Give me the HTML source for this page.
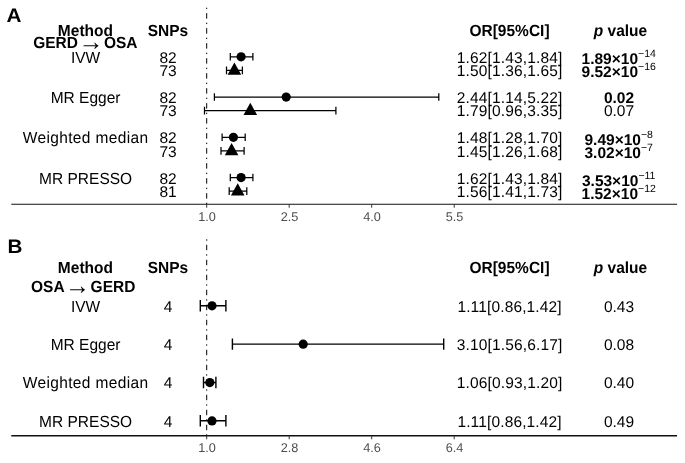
<!DOCTYPE html>
<html><head><meta charset="utf-8"><title>Forest plot</title>
<style>
html,body{margin:0;padding:0;background:#fff;}
svg{display:block;font-family:"Liberation Sans",Arial,Helvetica,sans-serif;text-rendering:geometricPrecision;}
.b{font-weight:bold;}
.t{font-size:15.5px;fill:#000;}
.ax{font-size:12.7px;fill:#4d4d4d;}
</style></head><body>
<svg width="685" height="463" viewBox="0 0 685 463">
<rect width="685" height="463" fill="#fff"/>

<text transform="translate(6.6 21.7) scale(1.09 1.03)" class="b" font-size="19px">A</text>
<text transform="translate(85.4 35.7) scale(1 1.04)" class="t b" text-anchor="middle">Method</text>
<text transform="translate(85.4 48.2) scale(1 1.04)" class="t b" text-anchor="middle">GERD<tspan font-size="1px"> </tspan><tspan font-size="25px" font-weight="normal" dy="1.5" dx="0.2">→</tspan><tspan font-size="1px"> </tspan><tspan dy="-1.5" dx="0.2">OSA</tspan></text>
<text transform="translate(168 35.7) scale(1 1.04)" class="t b" text-anchor="middle">SNPs</text>
<text transform="translate(509.5 35.7) scale(1 1.04)" class="t b" text-anchor="middle">OR[95%CI]</text>
<text transform="translate(620.5 35.7) scale(1 1.04)" class="t b" text-anchor="middle"><tspan font-style="italic">p</tspan> value</text>
<line x1="206.7" y1="7.7" x2="206.7" y2="204.2" stroke="#000" stroke-width="1" stroke-dasharray="1.36 4.09 5.46 4.09"/>
<line x1="11.3" y1="204.2" x2="677" y2="204.2" stroke="#111" stroke-width="1.1"/>
<line x1="206.7" y1="204.2" x2="206.7" y2="207.7" stroke="#333" stroke-width="1"/>
<text transform="translate(207.1 220.9) scale(1 1.0)" class="ax" text-anchor="middle">1.0</text>
<line x1="289.2" y1="204.2" x2="289.2" y2="207.7" stroke="#333" stroke-width="1"/>
<text transform="translate(289.6 220.9) scale(1 1.0)" class="ax" text-anchor="middle">2.5</text>
<line x1="371.7" y1="204.2" x2="371.7" y2="207.7" stroke="#333" stroke-width="1"/>
<text transform="translate(372.1 220.9) scale(1 1.0)" class="ax" text-anchor="middle">4.0</text>
<line x1="454.2" y1="204.2" x2="454.2" y2="207.7" stroke="#333" stroke-width="1"/>
<text transform="translate(454.6 220.9) scale(1 1.0)" class="ax" text-anchor="middle">5.5</text>
<text transform="translate(85.6 62.55) scale(1 1.04)" class="t" text-anchor="middle">IVW</text>
<text transform="translate(168 62.55) scale(1 1.0)" class="t" text-anchor="middle">82</text>
<text transform="translate(509.6 62.55) scale(1 1.0)" class="t" text-anchor="middle" letter-spacing="0.14">1.62[1.43,1.84]</text>
<text transform="translate(618.7 64.1) scale(1 1.0)" class="t" text-anchor="middle"><tspan class="b">1.89×10</tspan><tspan dy="-7.1" font-size="10.5px">−14</tspan></text>
<path d="M230.3 56.75H252.9M230.3 52.95V60.55M252.9 52.95V60.55" stroke="#000" stroke-width="1.25" fill="none"/>
<circle cx="241.1" cy="56.85" r="4.6" fill="#000"/>
<text transform="translate(168 75.9) scale(1 1.0)" class="t" text-anchor="middle">73</text>
<text transform="translate(509.6 75.9) scale(1 1.0)" class="t" text-anchor="middle" letter-spacing="0.14">1.50[1.36,1.65]</text>
<text transform="translate(618.7 77.1) scale(1 1.0)" class="t" text-anchor="middle"><tspan class="b">9.52×10</tspan><tspan dy="-7.1" font-size="10.5px">−16</tspan></text>
<path d="M226.5 70.4H242.4M226.5 66.60V74.20M242.4 66.60V74.20" stroke="#000" stroke-width="1.25" fill="none"/>
<path d="M234.4 62.50L241.2 74.70H227.6Z" fill="#000"/>
<text transform="translate(85.6 102.95) scale(1 1.04)" class="t" text-anchor="middle">MR Egger</text>
<text transform="translate(168 102.95) scale(1 1.0)" class="t" text-anchor="middle">82</text>
<text transform="translate(509.6 102.95) scale(1 1.0)" class="t" text-anchor="middle" letter-spacing="0.14">2.44[1.14,5.22]</text>
<text transform="translate(619 102.95) scale(1 1.0)" class="t b" text-anchor="middle">0.02</text>
<path d="M214.4 97.0H438.8M214.4 93.20V100.80M438.8 93.20V100.80" stroke="#000" stroke-width="1.25" fill="none"/>
<circle cx="286.2" cy="97.10" r="4.6" fill="#000"/>
<text transform="translate(168 116.3) scale(1 1.0)" class="t" text-anchor="middle">73</text>
<text transform="translate(509.6 116.3) scale(1 1.0)" class="t" text-anchor="middle" letter-spacing="0.14">1.79[0.96,3.35]</text>
<text transform="translate(619 116.3) scale(1 1.0)" class="t" text-anchor="middle">0.07</text>
<path d="M204.5 110.63H335.9M204.5 106.83V114.43M335.9 106.83V114.43" stroke="#000" stroke-width="1.25" fill="none"/>
<path d="M250.3 102.73L257.1 114.93H243.5Z" fill="#000"/>
<text transform="translate(85.6 143.35) scale(1 1.04)" class="t" text-anchor="middle" letter-spacing="0.35">Weighted median</text>
<text transform="translate(168 143.35) scale(1 1.0)" class="t" text-anchor="middle">82</text>
<text transform="translate(509.6 143.35) scale(1 1.0)" class="t" text-anchor="middle" letter-spacing="0.14">1.48[1.28,1.70]</text>
<text transform="translate(618.7 145.1) scale(1 1.0)" class="t" text-anchor="middle"><tspan class="b">9.49×10</tspan><tspan dy="-7.1" font-size="10.5px">−8</tspan></text>
<path d="M222.1 137.25H245.2M222.1 133.45V141.05M245.2 133.45V141.05" stroke="#000" stroke-width="1.25" fill="none"/>
<circle cx="233.4" cy="137.35" r="4.6" fill="#000"/>
<text transform="translate(168 156.7) scale(1 1.0)" class="t" text-anchor="middle">73</text>
<text transform="translate(509.6 156.7) scale(1 1.0)" class="t" text-anchor="middle" letter-spacing="0.14">1.45[1.26,1.68]</text>
<text transform="translate(618.7 158.1) scale(1 1.0)" class="t" text-anchor="middle"><tspan class="b">3.02×10</tspan><tspan dy="-7.1" font-size="10.5px">−7</tspan></text>
<path d="M221.0 150.86H244.1M221.0 147.06V154.66M244.1 147.06V154.66" stroke="#000" stroke-width="1.25" fill="none"/>
<path d="M231.6 142.96L238.4 155.16H224.8Z" fill="#000"/>
<text transform="translate(85.6 183.75) scale(1 1.04)" class="t" text-anchor="middle">MR PRESSO</text>
<text transform="translate(168 183.75) scale(1 1.0)" class="t" text-anchor="middle">82</text>
<text transform="translate(509.6 183.75) scale(1 1.0)" class="t" text-anchor="middle" letter-spacing="0.14">1.62[1.43,1.84]</text>
<text transform="translate(618.7 185.6) scale(1 1.0)" class="t" text-anchor="middle"><tspan class="b">3.53×10</tspan><tspan dy="-7.1" font-size="10.5px">−11</tspan></text>
<path d="M230.3 177.5H252.9M230.3 173.70V181.30M252.9 173.70V181.30" stroke="#000" stroke-width="1.25" fill="none"/>
<circle cx="241.1" cy="177.60" r="4.6" fill="#000"/>
<text transform="translate(168 197.1) scale(1 1.0)" class="t" text-anchor="middle">81</text>
<text transform="translate(509.6 197.1) scale(1 1.0)" class="t" text-anchor="middle" letter-spacing="0.14">1.56[1.41,1.73]</text>
<text transform="translate(618.7 198.6) scale(1 1.0)" class="t" text-anchor="middle"><tspan class="b">1.52×10</tspan><tspan dy="-7.1" font-size="10.5px">−12</tspan></text>
<path d="M229.2 191.1H246.8M229.2 187.30V194.90M246.8 187.30V194.90" stroke="#000" stroke-width="1.25" fill="none"/>
<path d="M237.7 183.20L244.5 195.40H230.9Z" fill="#000"/>
<text transform="translate(7.4 253.1) scale(1.09 1.03)" class="b" font-size="19px">B</text>
<text transform="translate(85.4 273) scale(1 1.04)" class="t b" text-anchor="middle">Method</text>
<text transform="translate(83.2 292) scale(1 1.04)" class="t b" text-anchor="middle">OSA<tspan font-size="1px"> </tspan><tspan font-size="25px" font-weight="normal" dy="1.5" dx="0.2">→</tspan><tspan font-size="1px"> </tspan><tspan dy="-1.5" dx="0.2">GERD</tspan></text>
<text transform="translate(168 273) scale(1 1.04)" class="t b" text-anchor="middle">SNPs</text>
<text transform="translate(509.5 273) scale(1 1.04)" class="t b" text-anchor="middle">OR[95%CI]</text>
<text transform="translate(620.5 273) scale(1 1.04)" class="t b" text-anchor="middle"><tspan font-style="italic">p</tspan> value</text>
<line x1="206.7" y1="239.3" x2="206.7" y2="435.8" stroke="#000" stroke-width="1" stroke-dasharray="1.36 4.09 5.46 4.09"/>
<line x1="11.3" y1="435.8" x2="677" y2="435.8" stroke="#111" stroke-width="1.6"/>
<line x1="206.7" y1="435.8" x2="206.7" y2="439.3" stroke="#333" stroke-width="1"/>
<text transform="translate(207.1 452.0) scale(1 1.0)" class="ax" text-anchor="middle">1.0</text>
<line x1="289.2" y1="435.8" x2="289.2" y2="439.3" stroke="#333" stroke-width="1"/>
<text transform="translate(289.6 452.0) scale(1 1.0)" class="ax" text-anchor="middle">2.8</text>
<line x1="371.7" y1="435.8" x2="371.7" y2="439.3" stroke="#333" stroke-width="1"/>
<text transform="translate(372.1 452.0) scale(1 1.0)" class="ax" text-anchor="middle">4.6</text>
<line x1="454.2" y1="435.8" x2="454.2" y2="439.3" stroke="#333" stroke-width="1"/>
<text transform="translate(454.6 452.0) scale(1 1.0)" class="ax" text-anchor="middle">6.4</text>
<text transform="translate(85.6 311.5) scale(1 1.04)" class="t" text-anchor="middle">IVW</text>
<text transform="translate(168 311.5) scale(1 1.0)" class="t" text-anchor="middle">4</text>
<text transform="translate(509.6 311.5) scale(1 1.0)" class="t" text-anchor="middle" letter-spacing="0.14">1.11[0.86,1.42]</text>
<text transform="translate(619 311.5) scale(1 1.0)" class="t" text-anchor="middle">0.43</text>
<path d="M200.3 305.75H225.9M200.3 300.05V311.45M225.9 300.05V311.45" stroke="#000" stroke-width="1.4" fill="none"/>
<circle cx="212.0" cy="305.85" r="4.6" fill="#000"/>
<text transform="translate(85.6 349.85) scale(1 1.04)" class="t" text-anchor="middle">MR Egger</text>
<text transform="translate(168 349.85) scale(1 1.0)" class="t" text-anchor="middle">4</text>
<text transform="translate(509.6 349.85) scale(1 1.0)" class="t" text-anchor="middle" letter-spacing="0.14">3.10[1.56,6.17]</text>
<text transform="translate(619 349.85) scale(1 1.0)" class="t" text-anchor="middle">0.08</text>
<path d="M232.4 344.1H443.7M232.4 338.40V349.80M443.7 338.40V349.80" stroke="#000" stroke-width="1.4" fill="none"/>
<circle cx="303.2" cy="344.20" r="4.6" fill="#000"/>
<text transform="translate(85.6 388.2) scale(1 1.04)" class="t" text-anchor="middle" letter-spacing="0.35">Weighted median</text>
<text transform="translate(168 388.2) scale(1 1.0)" class="t" text-anchor="middle">4</text>
<text transform="translate(509.6 388.2) scale(1 1.0)" class="t" text-anchor="middle" letter-spacing="0.14">1.06[0.93,1.20]</text>
<text transform="translate(619 388.2) scale(1 1.0)" class="t" text-anchor="middle">0.40</text>
<path d="M203.5 382.45H215.9M203.5 376.75V388.15M215.9 376.75V388.15" stroke="#000" stroke-width="1.4" fill="none"/>
<circle cx="209.8" cy="382.55" r="4.6" fill="#000"/>
<text transform="translate(85.6 426.55) scale(1 1.04)" class="t" text-anchor="middle">MR PRESSO</text>
<text transform="translate(168 426.55) scale(1 1.0)" class="t" text-anchor="middle">4</text>
<text transform="translate(509.6 426.55) scale(1 1.0)" class="t" text-anchor="middle" letter-spacing="0.14">1.11[0.86,1.42]</text>
<text transform="translate(619 426.55) scale(1 1.0)" class="t" text-anchor="middle">0.49</text>
<path d="M200.3 420.8H225.9M200.3 415.10V426.50M225.9 415.10V426.50" stroke="#000" stroke-width="1.4" fill="none"/>
<circle cx="212.0" cy="420.90" r="4.6" fill="#000"/>
</svg></body></html>
